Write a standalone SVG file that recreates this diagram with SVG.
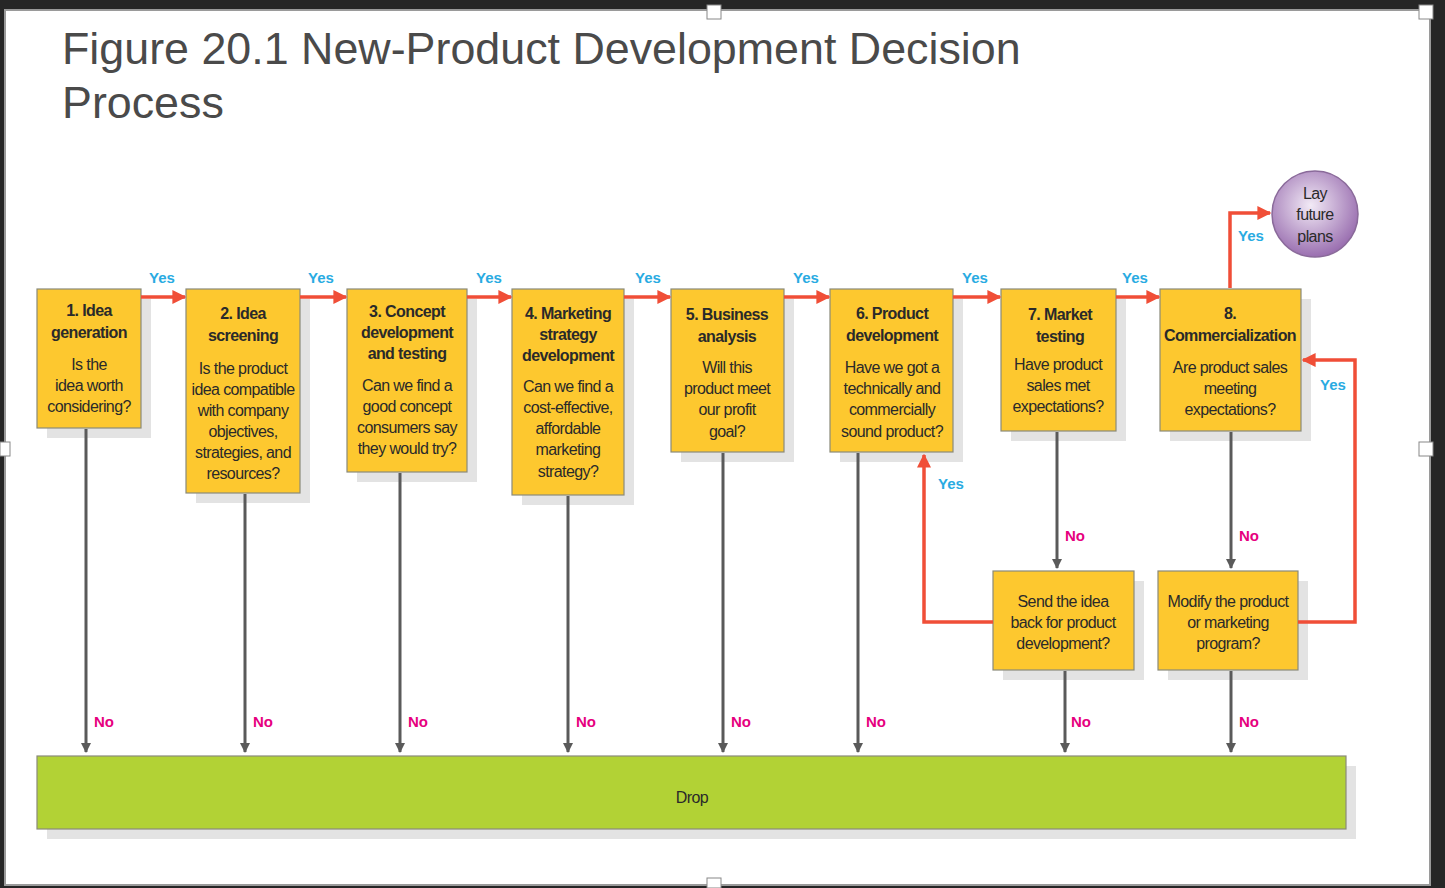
<svg xmlns="http://www.w3.org/2000/svg" width="1445" height="888" viewBox="0 0 1445 888">
<defs>
<marker id="ar" viewBox="0 0 10 10" refX="9" refY="5" markerWidth="4" markerHeight="4" orient="auto"><path d="M0,0L10,5L0,10z" fill="#f04e37"/></marker>
<marker id="ag" viewBox="0 0 10 10" refX="9" refY="5" markerWidth="3.5" markerHeight="4" orient="auto"><path d="M0,0L10,5L0,10z" fill="#5a5a5a"/></marker>
<radialGradient id="cg" cx="0.45" cy="0.4" r="0.6"><stop offset="0" stop-color="#f2eaf6"/><stop offset="1" stop-color="#9a6fb0"/></radialGradient>
</defs>
<style>
.b{fill:#fdc82f;stroke:#8a8a7a;stroke-width:1.2}
.s{fill:#e3e3e3}
.t{font-family:"Liberation Sans Narrow","Liberation Sans",Arial,sans-serif;font-size:16px;fill:#2a2a2a;text-anchor:middle;letter-spacing:-0.6px}
.h{font-weight:bold}
.y{font-family:"Liberation Sans",Arial,sans-serif;font-size:15px;font-weight:bold;fill:#29abe2}
.n{font-family:"Liberation Sans",Arial,sans-serif;font-size:15px;font-weight:bold;fill:#e6007e}
.r{stroke:#f04e37;stroke-width:3.5;fill:none}
.g{stroke:#5a5a5a;stroke-width:3;fill:none}
</style>
<rect width="1445" height="888" fill="#262626"/>
<rect x="5" y="10" width="1425" height="875" fill="#fff" stroke="#9a9a9a" stroke-width="2"/>
<rect x="707" y="5" width="14" height="14" fill="#fff" stroke="#888"/>
<rect x="1419" y="5" width="14" height="14" fill="#fff" stroke="#888"/>
<rect x="1419" y="442" width="14" height="14" fill="#fff" stroke="#888"/>
<rect x="0" y="442" width="10" height="14" fill="#fff" stroke="#888"/>
<rect x="707" y="878" width="14" height="10" fill="#fff" stroke="#888"/>
<text x="62" y="64" font-family="Liberation Sans,Arial,sans-serif" font-size="44.8" fill="#4a4a4a">Figure 20.1 New-Product Development Decision</text>
<text x="62" y="118" font-family="Liberation Sans,Arial,sans-serif" font-size="44.8" fill="#4a4a4a">Process</text>

<g id="n1"><rect class="s" x="47" y="299" width="104" height="139"/><rect class="b" x="37" y="289" width="104" height="139"/>
<text class="t"><tspan class="h" x="89" y="316">1. Idea</tspan><tspan class="h" x="89" y="338">generation</tspan><tspan x="89" y="370">Is the</tspan><tspan x="89" y="391">idea worth</tspan><tspan x="89" y="412">considering?</tspan></text></g>
<g id="n2"><rect class="s" x="196" y="299" width="114" height="204"/><rect class="b" x="186" y="289" width="114" height="204"/>
<text class="t"><tspan class="h" x="243" y="319">2. Idea</tspan><tspan class="h" x="243" y="341">screening</tspan><tspan x="243" y="374">Is the product</tspan><tspan x="243" y="395">idea compatible</tspan><tspan x="243" y="416">with company</tspan><tspan x="243" y="437">objectives,</tspan><tspan x="243" y="458">strategies, and</tspan><tspan x="243" y="479">resources?</tspan></text></g>
<g id="n3"><rect class="s" x="357" y="299" width="120" height="183"/><rect class="b" x="347" y="289" width="120" height="183"/>
<text class="t"><tspan class="h" x="407" y="317">3. Concept</tspan><tspan class="h" x="407" y="338">development</tspan><tspan class="h" x="407" y="359">and testing</tspan><tspan x="407" y="391">Can we find a</tspan><tspan x="407" y="412">good concept</tspan><tspan x="407" y="433">consumers say</tspan><tspan x="407" y="454">they would try?</tspan></text></g>
<g id="n4"><rect class="s" x="522" y="299" width="112" height="206"/><rect class="b" x="512" y="289" width="112" height="206"/>
<text class="t"><tspan class="h" x="568" y="319">4. Marketing</tspan><tspan class="h" x="568" y="340">strategy</tspan><tspan class="h" x="568" y="361">development</tspan><tspan x="568" y="392">Can we find a</tspan><tspan x="568" y="413">cost-effective,</tspan><tspan x="568" y="434">affordable</tspan><tspan x="568" y="455">marketing</tspan><tspan x="568" y="477">strategy?</tspan></text></g>
<g id="n5"><rect class="s" x="681" y="299" width="113" height="163"/><rect class="b" x="671" y="289" width="113" height="163"/>
<text class="t"><tspan class="h" x="727" y="320">5. Business</tspan><tspan class="h" x="727" y="342">analysis</tspan><tspan x="727" y="373">Will this</tspan><tspan x="727" y="394">product meet</tspan><tspan x="727" y="415">our profit</tspan><tspan x="727" y="437">goal?</tspan></text></g>
<g id="n6"><rect class="s" x="840" y="299" width="123" height="163"/><rect class="b" x="830" y="289" width="123" height="163"/>
<text class="t"><tspan class="h" x="892" y="319">6. Product</tspan><tspan class="h" x="892" y="341">development</tspan><tspan x="892" y="373">Have we got a</tspan><tspan x="892" y="394">technically and</tspan><tspan x="892" y="415">commercially</tspan><tspan x="892" y="437">sound product?</tspan></text></g>
<g id="n7"><rect class="s" x="1011" y="299" width="115" height="142"/><rect class="b" x="1001" y="289" width="115" height="142"/>
<text class="t"><tspan class="h" x="1060" y="320">7. Market</tspan><tspan class="h" x="1060" y="342">testing</tspan><tspan x="1058" y="370">Have product</tspan><tspan x="1058" y="391">sales met</tspan><tspan x="1058" y="412">expectations?</tspan></text></g>
<g id="n8"><rect class="s" x="1170" y="299" width="141" height="142"/><rect class="b" x="1160" y="289" width="141" height="142"/>
<text class="t"><tspan class="h" x="1230" y="319">8.</tspan><tspan class="h" x="1230" y="341">Commercialization</tspan><tspan x="1230" y="373">Are product sales</tspan><tspan x="1230" y="394">meeting</tspan><tspan x="1230" y="415">expectations?</tspan></text></g>
<g id="send"><rect class="s" x="1003" y="581" width="141" height="99"/><rect class="b" x="993" y="571" width="141" height="99"/>
<text class="t"><tspan x="1063" y="607">Send the idea</tspan><tspan x="1063" y="628">back for product</tspan><tspan x="1063" y="649">development?</tspan></text></g>
<g id="modify"><rect class="s" x="1168" y="581" width="140" height="99"/><rect class="b" x="1158" y="571" width="140" height="99"/>
<text class="t"><tspan x="1228" y="607">Modify the product</tspan><tspan x="1228" y="628">or marketing</tspan><tspan x="1228" y="649">program?</tspan></text></g>
<g id="lay"><circle cx="1315" cy="214" r="43" fill="url(#cg)" stroke="#8a6a9a" stroke-width="1.5"/>
<text class="t"><tspan x="1315" y="199">Lay</tspan><tspan x="1315" y="220">future</tspan><tspan x="1315" y="242">plans</tspan></text></g>
<g id="drop"><rect class="s" x="47" y="766" width="1309" height="73"/><rect x="37" y="756" width="1309" height="73" fill="#b2d235" stroke="#8a8a7a" stroke-width="1.2"/>
<text class="t" x="692" y="803" font-size="18">Drop</text></g>

<g id="connectors">
<path class="r" d="M141,297H185" marker-end="url(#ar)"/>
<path class="r" d="M300,297H346" marker-end="url(#ar)"/>
<path class="r" d="M467,297H511" marker-end="url(#ar)"/>
<path class="r" d="M624,297H670" marker-end="url(#ar)"/>
<path class="r" d="M784,297H829" marker-end="url(#ar)"/>
<path class="r" d="M953,297H1000" marker-end="url(#ar)"/>
<path class="r" d="M1116,297H1159" marker-end="url(#ar)"/>
<path class="r" d="M1230,288V213H1270" marker-end="url(#ar)"/>
<path class="r" d="M993,622H924V455" marker-end="url(#ar)"/>
<path class="r" d="M1298,622H1355V360H1303" marker-end="url(#ar)"/>
<path class="g" d="M86,429V752" marker-end="url(#ag)"/>
<path class="g" d="M245,494V752" marker-end="url(#ag)"/>
<path class="g" d="M400,473V752" marker-end="url(#ag)"/>
<path class="g" d="M568,496V752" marker-end="url(#ag)"/>
<path class="g" d="M723,453V752" marker-end="url(#ag)"/>
<path class="g" d="M858,453V752" marker-end="url(#ag)"/>
<path class="g" d="M1057,432V568" marker-end="url(#ag)"/>
<path class="g" d="M1231,432V568" marker-end="url(#ag)"/>
<path class="g" d="M1065,671V752" marker-end="url(#ag)"/>
<path class="g" d="M1231,671V752" marker-end="url(#ag)"/>
<text class="y" x="149" y="283">Yes</text><text class="y" x="308" y="283">Yes</text><text class="y" x="476" y="283">Yes</text><text class="y" x="635" y="283">Yes</text><text class="y" x="793" y="283">Yes</text><text class="y" x="962" y="283">Yes</text><text class="y" x="1122" y="283">Yes</text>
<text class="y" x="1238" y="241">Yes</text><text class="y" x="1320" y="390">Yes</text><text class="y" x="938" y="489">Yes</text>
<text class="n" x="94" y="727">No</text><text class="n" x="253" y="727">No</text><text class="n" x="408" y="727">No</text><text class="n" x="576" y="727">No</text><text class="n" x="731" y="727">No</text><text class="n" x="866" y="727">No</text><text class="n" x="1071" y="727">No</text><text class="n" x="1239" y="727">No</text>
<text class="n" x="1065" y="541">No</text><text class="n" x="1239" y="541">No</text>
</g>
</svg>
